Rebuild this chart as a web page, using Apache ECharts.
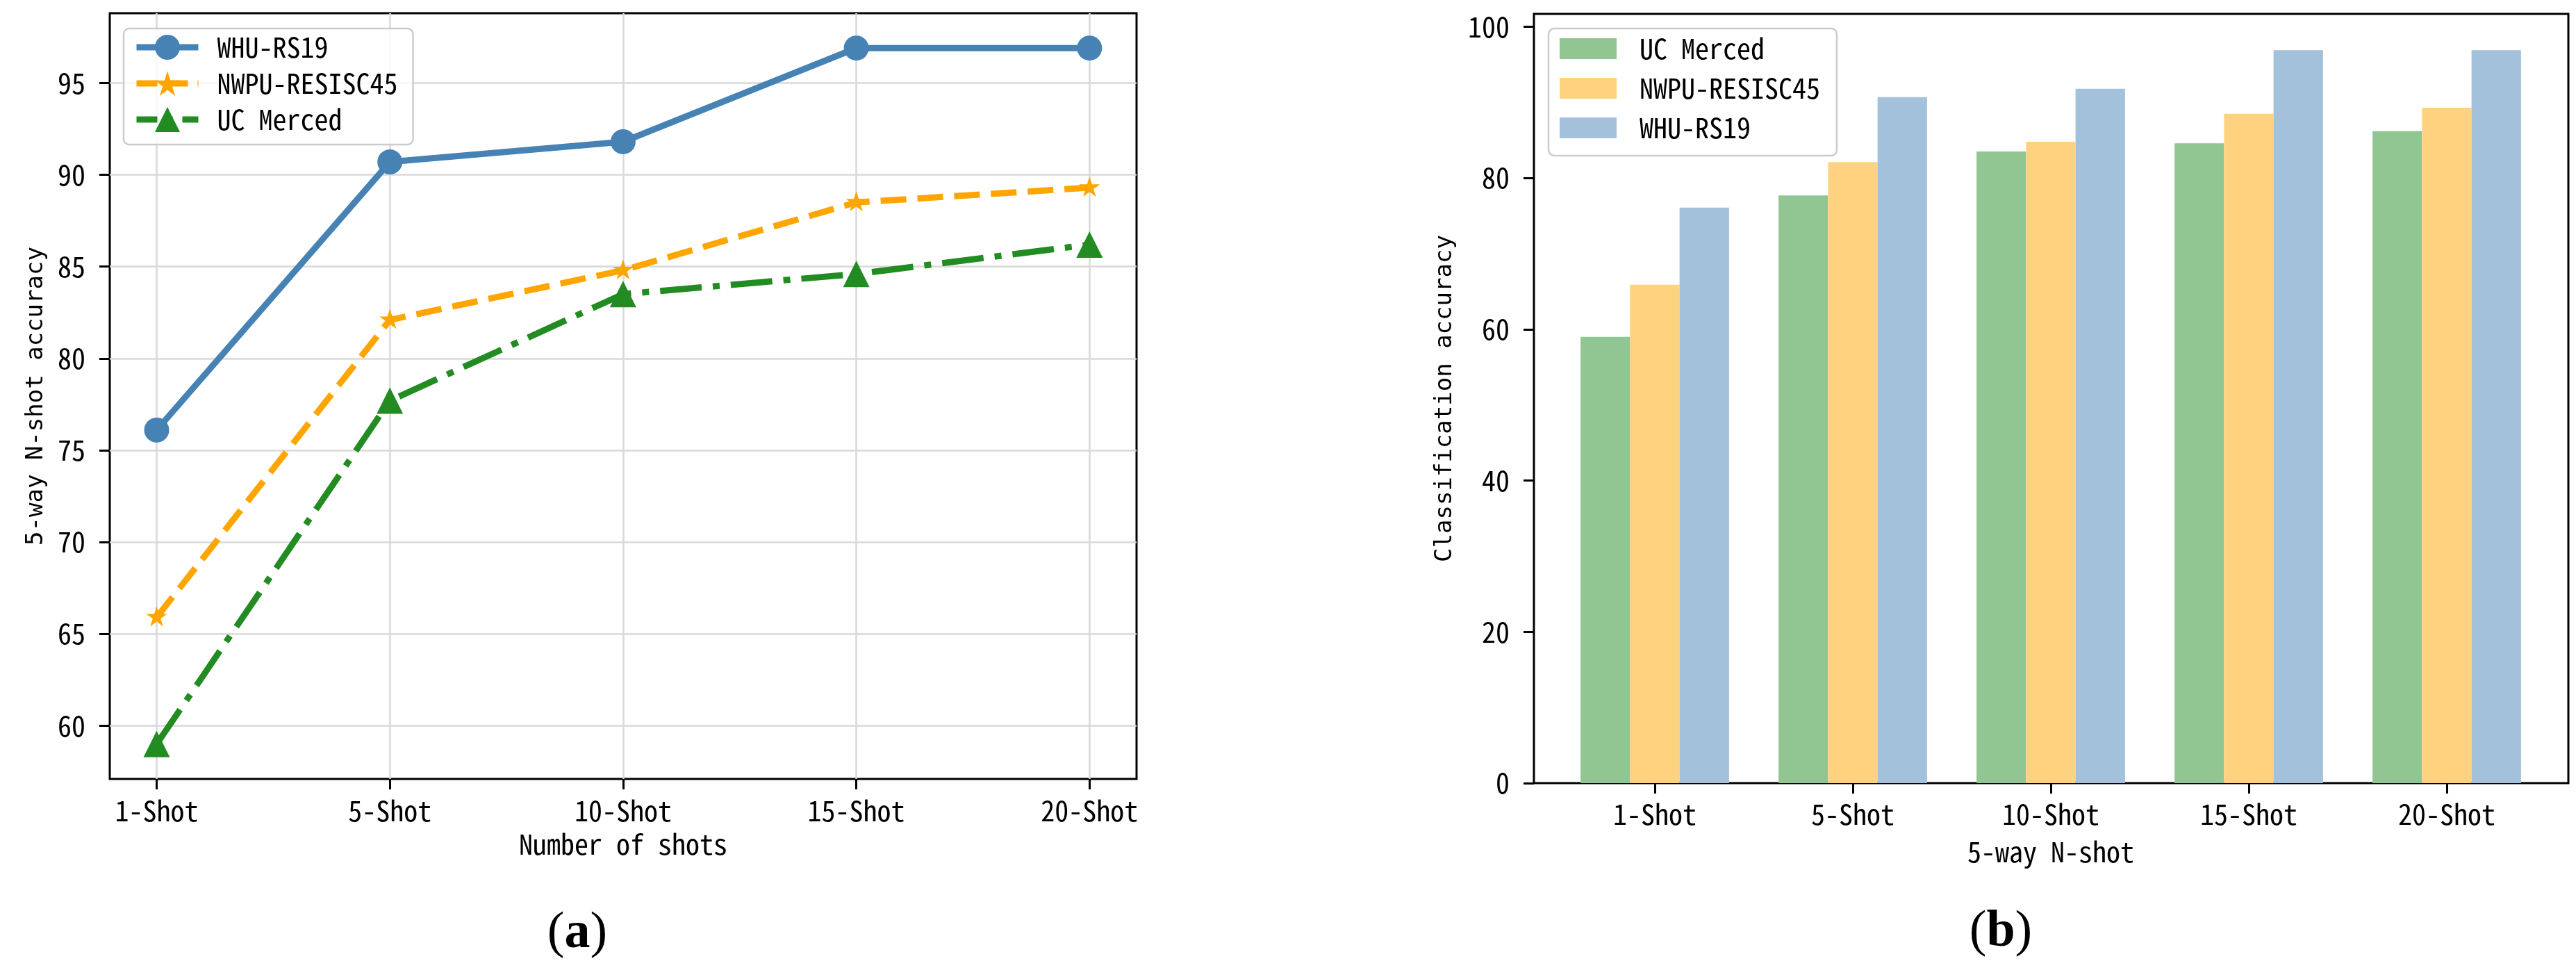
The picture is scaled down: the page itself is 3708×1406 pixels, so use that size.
<!DOCTYPE html>
<html>
<head>
<meta charset="utf-8">
<title>5-way N-shot accuracy</title>
<script src="https://cdn.jsdelivr.net/npm/echarts@6/dist/echarts.min.js"></script>
<style>
html,body{margin:0;padding:0;background:#fff;}
#main{width:3708px;height:1406px;}
</style>
</head>
<body>
<div id="main"></div>
<script>
var shots = ['1-Shot', '5-Shot', '10-Shot', '15-Shot', '20-Shot'];
var whu = [76.1, 90.7, 91.8, 96.9, 96.9];
var nwpu = [65.9, 82.1, 84.8, 88.5, 89.3];
var ucm = [59.0, 77.7, 83.5, 84.6, 86.2];
var lineTicks = [60, 65, 70, 75, 80, 85, 90, 95];
var barTicks = [0, 20, 40, 60, 80, 100];

var MONO = "'Noto Sans Mono CJK SC', 'DejaVu Sans Mono', monospace";
var SPACED = "'DejaVu Sans Mono', monospace";
var SERIF = "'Liberation Serif', 'DejaVu Serif', serif";
var STAR = 'path://M100,0 L122.45,69.1 L195.11,69.1 L136.33,111.8 L158.78,180.9 L100,138.2 L41.22,180.9 L63.67,111.8 L4.89,69.1 L77.55,69.1 Z';

var tickStyle = {color: '#000', width: 3};
var gridLine = {show: true, lineStyle: {color: '#d9d9d9', width: 2.5}};
var labelFont = {fontFamily: MONO, fontSize: 40, color: '#000'};

var myChart = echarts.init(document.getElementById('main'));

var option = {
	backgroundColor: '#fff',
	animation: false,
	grid: [
		// (a) frame + inner data area
		{left: 158, top: 19, width: 1478, height: 1102, show: true, borderColor: '#000', borderWidth: 3, backgroundColor: 'transparent'},
		{left: 225.5, top: 19, width: 1342.8, height: 1102},
		// (b) frame + inner data area
		{left: 2208, top: 20, width: 1489, height: 1107, show: true, borderColor: '#000', borderWidth: 3, backgroundColor: 'transparent'},
		{left: 2239.5, top: 20, width: 1425, height: 1107}
	],
	xAxis: [
		{gridIndex: 0, type: 'value', min: 0, max: 1, show: false},
		{
			gridIndex: 1, type: 'category', data: shots, boundaryGap: false,
			axisLine: {show: false},
			axisTick: {show: true, length: 15, lineStyle: tickStyle},
			axisLabel: {interval: 0, margin: 26, fontFamily: MONO, fontSize: 40, color: '#000'},
			splitLine: gridLine,
			name: 'Number of shots', nameLocation: 'middle', nameGap: 74,
			nameTextStyle: labelFont
		},
		{gridIndex: 2, type: 'value', min: 0, max: 1, show: false},
		{
			gridIndex: 3, type: 'category', data: shots,
			axisLine: {show: false},
			axisTick: {show: true, alignWithLabel: true, length: 15, lineStyle: tickStyle},
			axisLabel: {interval: 0, margin: 25, fontFamily: MONO, fontSize: 40, color: '#000'},
			splitLine: {show: false},
			name: '5-way N-shot', nameLocation: 'middle', nameGap: 79,
			nameTextStyle: labelFont
		}
	],
	yAxis: [
		{
			gridIndex: 0, type: 'value', min: 57.1, max: 98.8,
			axisLine: {show: false},
			axisTick: {show: true, length: 15, lineStyle: tickStyle, customValues: lineTicks},
			axisLabel: {customValues: lineTicks, margin: 35, fontFamily: MONO, fontSize: 40, color: '#000'},
			splitLine: gridLine,
			name: '5-way N-shot accuracy', nameLocation: 'middle', nameGap: 89, nameRotate: 90,
			nameTextStyle: {fontFamily: SPACED, fontSize: 34, color: '#000'}
		},
		{gridIndex: 1, type: 'value', min: 57.1, max: 98.8, show: false},
		{
			gridIndex: 2, type: 'value', min: 0, max: 101.7,
			axisLine: {show: false},
			axisTick: {show: true, length: 15, lineStyle: tickStyle, customValues: barTicks},
			axisLabel: {customValues: barTicks, margin: 35, fontFamily: MONO, fontSize: 40, color: '#000'},
			splitLine: {show: false},
			name: 'Classification accuracy', nameLocation: 'middle', nameGap: 111, nameRotate: 90,
			nameTextStyle: {fontFamily: SPACED, fontSize: 34, color: '#000'}
		},
		{gridIndex: 3, type: 'value', min: 0, max: 101.7, show: false}
	],
	legend: [
		{
			left: 178, top: 41, orient: 'vertical', selectedMode: false,
			data: [
				{name: 'WHU-RS19', lineStyle: {width: 9, type: 'solid'}},
				{name: 'NWPU-RESISC45', lineStyle: {width: 9, type: [30, 14]}},
				{name: 'UC Merced', lineStyle: {width: 9, type: [30, 14, 8, 14]}}
			],
			itemWidth: 89, itemHeight: 45, itemGap: 12,
			padding: [7, 22, 16, 14],
			backgroundColor: 'rgba(255,255,255,0.8)', borderColor: '#cccccc', borderWidth: 2.5, borderRadius: 8,
			textStyle: {fontFamily: MONO, fontSize: 40, color: '#000', lineHeight: 40, padding: [0, 0, 0, 22]}
		},
		{
			left: 2229, top: 41, orient: 'vertical', selectedMode: false,
			data: [
				{name: 'UC Merced', icon: 'rect', itemStyle: {color: '#91C591', borderWidth: 0}},
				{name: 'NWPU-RESISC45', icon: 'rect', itemStyle: {color: '#FFD27F', borderWidth: 0}},
				{name: 'WHU-RS19', icon: 'rect', itemStyle: {color: '#A3C1DA', borderWidth: 0}}
			],
			itemWidth: 82, itemHeight: 30, itemGap: 17,
			padding: [9, 24, 20, 16],
			backgroundColor: 'rgba(255,255,255,0.8)', borderColor: '#cccccc', borderWidth: 2.5, borderRadius: 8,
			textStyle: {fontFamily: MONO, fontSize: 40, color: '#000', lineHeight: 40, padding: [0, 0, 0, 28]}
		}
	],
	graphic: [
		{type: 'text', x: 831, y: 1344, style: {
			text: '{p|(}{b|a}{p|)}', align: 'center', verticalAlign: 'middle',
			rich: {p: {fontFamily: SERIF, fontSize: 74, color: '#000'}, b: {fontFamily: SERIF, fontSize: 74, fontWeight: 'bold', color: '#000'}}
		}},
		{type: 'text', x: 2880, y: 1342, style: {
			text: '{p|(}{b|b}{p|)}', align: 'center', verticalAlign: 'middle',
			rich: {p: {fontFamily: SERIF, fontSize: 74, color: '#000'}, b: {fontFamily: SERIF, fontSize: 74, fontWeight: 'bold', color: '#000'}}
		}}
	],
	series: [
		{
			name: 'WHU-RS19', type: 'line', xAxisIndex: 1, yAxisIndex: 1, data: whu,
			color: '#4682B4', symbol: 'circle', symbolSize: 36,
			lineStyle: {width: 9, color: '#4682B4'}, itemStyle: {color: '#4682B4', borderWidth: 0}
		},
		{
			name: 'NWPU-RESISC45', type: 'line', xAxisIndex: 1, yAxisIndex: 1, data: nwpu,
			color: '#FFA500', symbol: STAR, symbolSize: [30, 29], symbolOffset: [0, -1.5],
			lineStyle: {width: 9, color: '#FFA500', type: [37, 16]}, itemStyle: {color: '#FFA500', borderWidth: 0}
		},
		{
			name: 'UC Merced', type: 'line', xAxisIndex: 1, yAxisIndex: 1, data: ucm,
			color: '#228B22', symbol: 'triangle', symbolSize: 38,
			lineStyle: {width: 9, color: '#228B22', type: [60, 16, 10, 16]}, itemStyle: {color: '#228B22', borderWidth: 0}
		},
		{
			name: 'UC Merced', type: 'bar', xAxisIndex: 3, yAxisIndex: 3, data: ucm,
			barGap: '0%', barCategoryGap: '25%', itemStyle: {color: '#91C591'}
		},
		{
			name: 'NWPU-RESISC45', type: 'bar', xAxisIndex: 3, yAxisIndex: 3, data: nwpu,
			barGap: '0%', barCategoryGap: '25%', itemStyle: {color: '#FFD27F'}
		},
		{
			name: 'WHU-RS19', type: 'bar', xAxisIndex: 3, yAxisIndex: 3, data: whu,
			barGap: '0%', barCategoryGap: '25%', itemStyle: {color: '#A3C1DA'}
		}
	]
};
myChart.setOption(option);
window.onresize = myChart.resize;
</script>
</body>
</html>
